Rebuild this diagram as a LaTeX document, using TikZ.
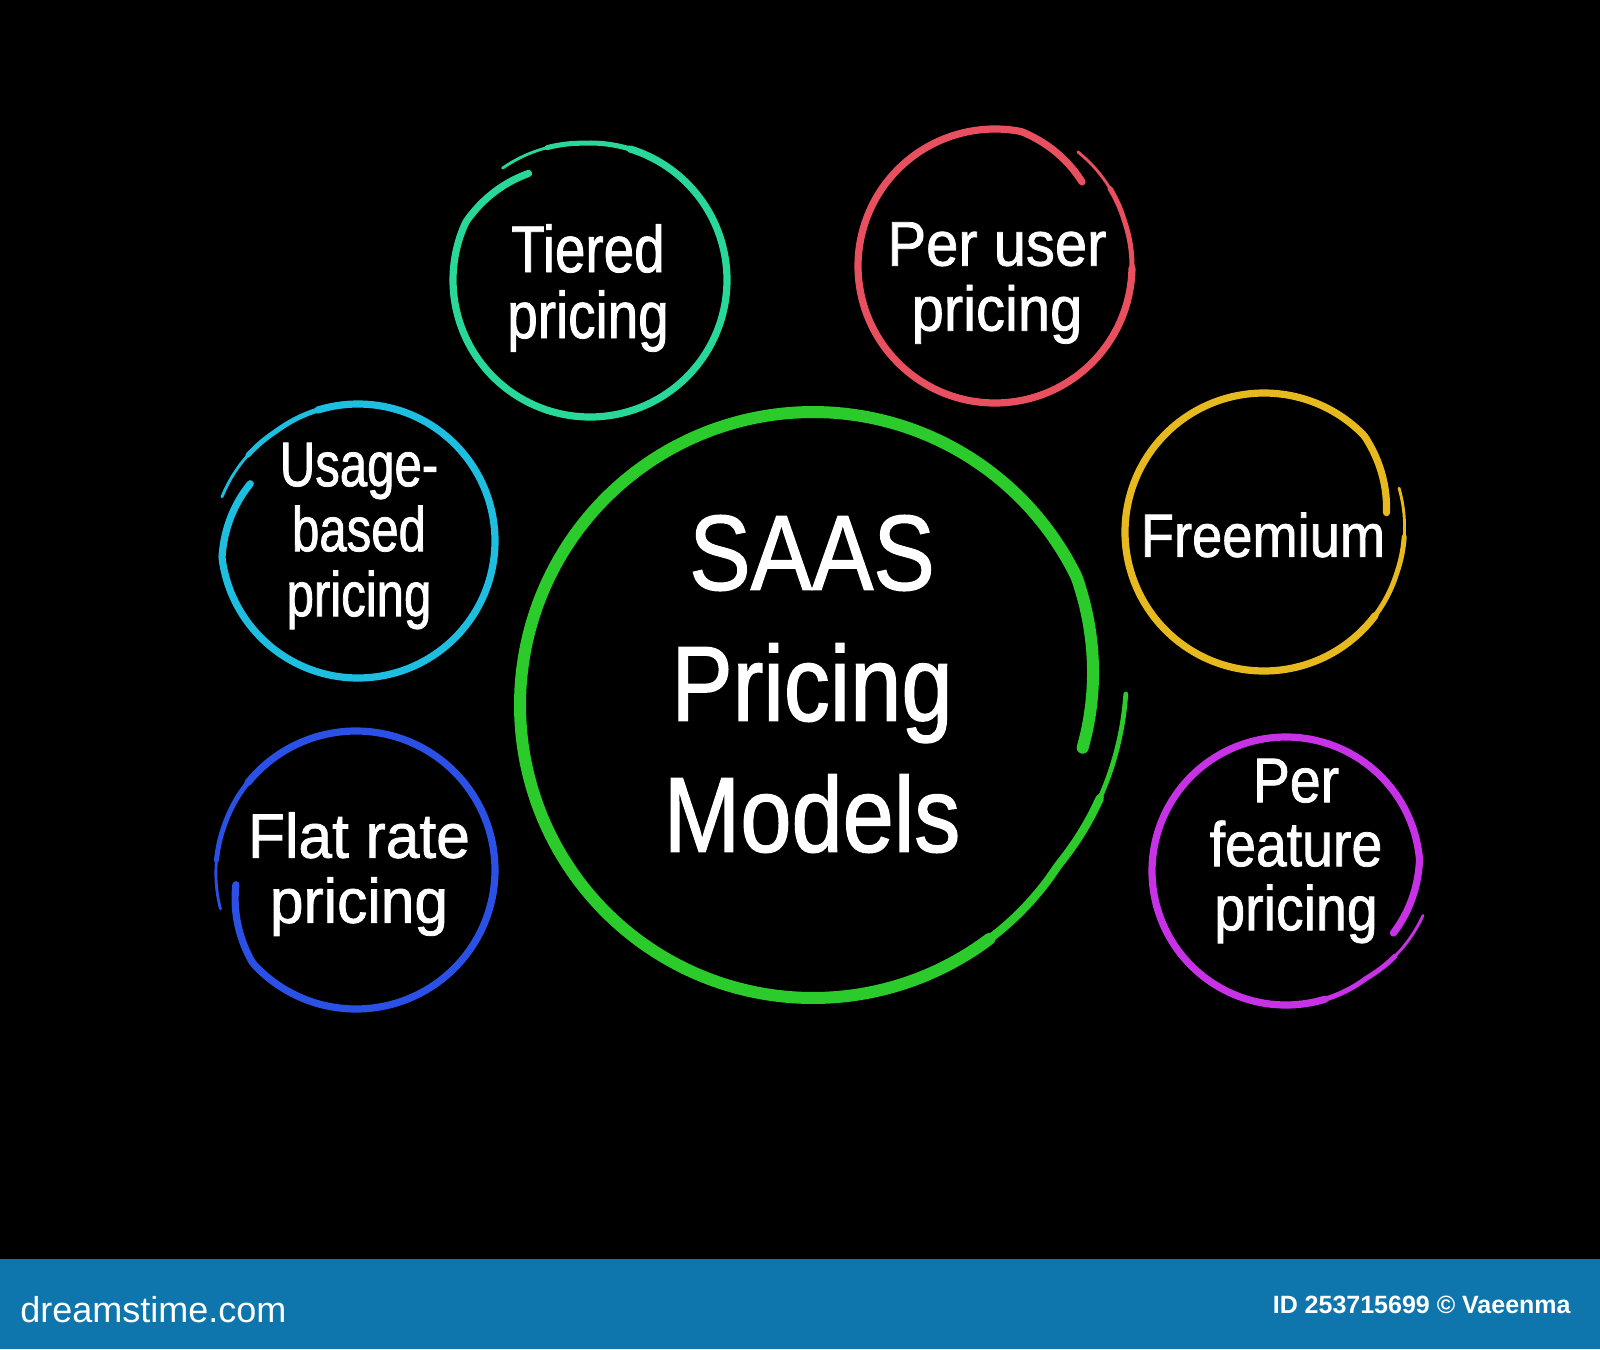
\documentclass[tikz,border=0pt]{standalone}
\usepackage{fontspec}
\setmainfont{Liberation Sans}
\newfontfamily\fTiered[FakeStretch=0.83,FakeBold=1.2]{Liberation Sans}
\newfontfamily\fUser[FakeStretch=0.92,FakeBold=1.2]{Liberation Sans}
\newfontfamily\fUsage[FakeStretch=0.78,FakeBold=1.2]{Liberation Sans}
\newfontfamily\fFree[FakeStretch=0.89,FakeBold=1.2]{Liberation Sans}
\newfontfamily\fFeat[FakeStretch=0.88,FakeBold=1.2]{Liberation Sans}
\newfontfamily\fFlat[FakeStretch=0.96,FakeBold=1.2]{Liberation Sans}
\newfontfamily\fMain[FakeStretch=0.86,FakeBold=1.2]{Liberation Sans}
\definecolor{cgreen}{HTML}{2CCB2C}
\definecolor{cteal}{HTML}{28D898}
\definecolor{cred}{HTML}{E8505F}
\definecolor{ccyan}{HTML}{1EBEE1}
\definecolor{cyellow}{HTML}{E6BA1E}
\definecolor{cblue}{HTML}{2A50E6}
\definecolor{cmagenta}{HTML}{C832E6}
\definecolor{barblue}{HTML}{0F76AD}
\tikzset{
  lab/.style={text=white, align=center, inner sep=0pt},
}
% #1 style, #2 cx, #3 cy, #4 R, #5 theta start (outer), #6 theta end (inner), #7 outer offset, #8 inner offset, #9 width
\newcommand\brushring[9][]{%
  \pgfmathsetmacro\bsA{#5}\pgfmathsetmacro\bsB{#5+25}%
  \pgfmathsetmacro\bsC{#5+20}\pgfmathsetmacro\bsD{#5+60}%
  \pgfmathsetmacro\bsE{#5+55}\pgfmathsetmacro\bsF{#6}%
  \def\bsR{(#4+(#7)*max(0,1-(\x-(#5))/35)-(#8)*max(0,1-((#6)-\x)/35))}%
  \draw[#1, line cap=round, line width=0.4*#9] plot[smooth, samples=10, domain=\bsA:\bsB] ({#2+\bsR*cos(\x)},{#3+\bsR*sin(\x)});
  \draw[#1, line cap=round, line width=0.7*#9] plot[smooth, samples=14, domain=\bsC:\bsD] ({#2+\bsR*cos(\x)},{#3+\bsR*sin(\x)});
  \draw[#1, line cap=round, line width=#9] plot[smooth, samples=110, domain=\bsE:\bsF] ({#2+\bsR*cos(\x)},{#3+\bsR*sin(\x)});
}
\begin{document}
\begin{tikzpicture}[x=0.5pt, y=-0.5pt]
\useasboundingbox (0,0) rectangle (1600,1349);
\fill[black] (0,0) rectangle (1600,1349);
\fill[barblue] (0,1259) rectangle (1600,1349);

% rings
\brushring[cgreen]{813}{705}{293}{-2}{369}{20}{20}{6pt}
\brushring[cteal]{590}{280}{137}{232}{600}{5}{14}{3.6pt}
\brushring[cred]{995}{266}{137}{306}{676}{4}{16}{3.6pt}
\brushring[ccyan]{358}{541}{137}{198}{568}{6}{15}{3.6pt}
\brushring[cyellow]{1264}{532}{139}{-18}{351}{3}{15}{3.6pt}
\brushring[cmagenta]{1286}{871}{134}{18}{390}{10}{10}{3.6pt}
\brushring[cblue]{356}{870}{139}{-196}{173}{2}{18}{3.6pt}

% texts
\node[lab, font=\fMain\fontsize{53.5}{65.5}\selectfont] (main) at (812,684) {SAAS\\Pricing\\Models};
\node[lab, font=\fTiered\fontsize{33}{33}\selectfont] (tiered) at (588,288) {Tiered\\pricing};
\node[lab, font=\fUser\fontsize{31.5}{32.5}\selectfont] (peruser) at (997,283) {Per user\\pricing};
\node[lab, font=\fUsage\fontsize{31.5}{32.5}\selectfont] (usage) at (359,536) {Usage-\\based\\pricing};
\node[lab, font=\fFree\fontsize{30.5}{32}\selectfont] (freemium) at (1263,535) {Freemium};
\node[lab, font=\fFeat\fontsize{31.5}{32}\selectfont] (perfeature) at (1296,851) {Per\\feature\\pricing};
\node[lab, font=\fFlat\fontsize{31.5}{32.5}\selectfont] (flat) at (359,874) {Flat rate\\pricing};

% bottom bar
\node[text=white, inner sep=0pt, anchor=base west, font=\fontsize{18}{20}\selectfont] (site) at (20,1322) {dreamstime.com};
\node[text=white, inner sep=0pt, anchor=base east, font=\bfseries\fontsize{12.5}{14}\selectfont] (credit) at (1571,1313) {ID 253715699 © Vaeenma};
\end{tikzpicture}
\end{document}
